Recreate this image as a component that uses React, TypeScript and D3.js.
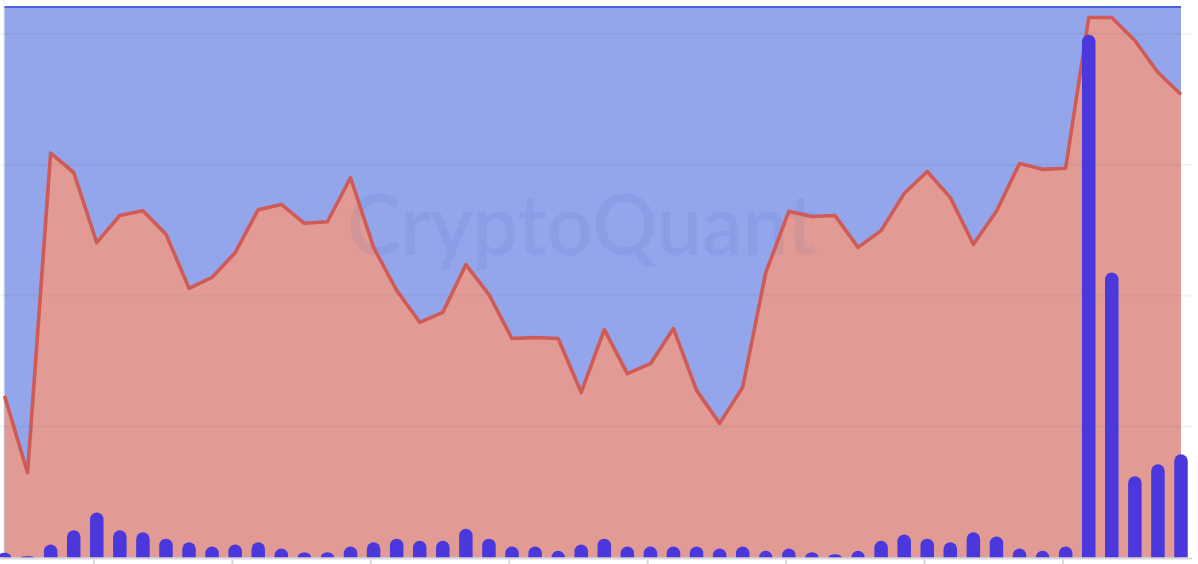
import React from 'react';
import * as d3 from 'd3';

// ---- data ----
const lineValues: number[] = [
  30.9, 16.2, 77.2, 73.5, 60.1, 65.3, 66.2, 61.7, 51.4, 53.5,
  58.2, 66.4, 67.4, 63.8, 64.1, 72.5, 59.2, 51.0, 44.9, 46.8,
  55.9, 50.2, 41.8, 42.0, 41.8, 31.5, 43.5, 35.1, 37.0, 43.7,
  31.9, 25.6, 32.5, 54.4, 66.1, 65.1, 65.3, 59.2, 62.4, 69.5,
  73.7, 68.7, 59.8, 66.1, 75.2, 74.1, 74.3, 103.1, 103.1, 98.7,
  92.6, 88.4,
];
const barValues: number[] = [
  0.9, 0.3, 2.5, 5.2, 8.6, 5.2, 4.8, 3.6, 2.9, 2.1,
  2.5, 2.9, 1.7, 1.0, 1.0, 2.1, 2.9, 3.6, 3.2, 3.2,
  5.5, 3.6, 2.1, 2.1, 1.3, 2.5, 3.6, 2.1, 2.1, 2.1,
  2.1, 1.7, 2.1, 1.3, 1.7, 1.0, 0.6, 1.3, 3.2, 4.4,
  3.6, 2.9, 4.8, 4.0, 1.7, 1.3, 2.1, 99.8, 54.4, 15.5,
  17.8, 19.7,
];
const tickPositions: number[] = [3.88, 9.88, 15.88, 21.88, 27.88, 33.88, 39.88, 45.88];
const gridValues: number[] = [25, 50, 75, 100];
const capValue = 105;

const W = 1198;
const H = 564;

export default function App() {
  const x = d3.scaleLinear().domain([0, lineValues.length - 1]).range([4.5, 1181]);
  const y = d3.scaleLinear().domain([0, capValue]).range([557.5, 7.5]);
  const base = y(0);

  const line = d3
    .line<number>()
    .x((_, i) => x(i))
    .y((d) => y(d));
  const area = d3
    .area<number>()
    .x((_, i) => x(i))
    .y0(base)
    .y1((d) => y(d));

  const barW = 13.5;

  return (
    <svg
      width={W}
      height={H}
      style={{ position: 'absolute', left: 0, top: 0, display: 'block' }}
    >
      <defs>
        <clipPath id="plotClip">
          <rect x={0} y={0} width={W} height={base} />
        </clipPath>
      </defs>
      <rect x={0} y={0} width={W} height={H} fill="#ffffff" />
      {/* left axis line */}
      <line x1={4} x2={4} y1={0} y2={base} stroke="#e4e4e8" strokeWidth={1} />
      {/* blue ceiling area */}
      <rect
        x={x(0)}
        y={y(capValue)}
        width={x(lineValues.length - 1) - x(0)}
        height={base - y(capValue)}
        fill="#93a5eb"
      />
      <line
        x1={x(0)}
        x2={x(lineValues.length - 1)}
        y1={y(capValue) - 0.5}
        y2={y(capValue) - 0.5}
        stroke="#4561dd"
        strokeWidth={2}
      />
      {/* red area */}
      <path d={area(lineValues) || ''} fill="#e19b94" />
      {/* watermark */}
      <text
        x={582}
        y={255}
        textAnchor="middle"
        fontFamily="Lato, 'Open Sans', sans-serif"
        fontWeight={600}
        fontSize={84}
        textLength={470}
        lengthAdjust="spacingAndGlyphs"
        fill="rgba(60,90,200,0.09)"
      >
        CryptoQuant
      </text>
      {/* gridlines */}
      {gridValues.map((g) => (
        <line
          key={g}
          x1={0}
          x2={1192}
          y1={y(g)}
          y2={y(g)}
          stroke="rgba(100,100,120,0.08)"
          strokeWidth={2}
        />
      ))}
      {/* red line */}
      <path
        d={line(lineValues) || ''}
        fill="none"
        stroke="#d05a55"
        strokeWidth={3.6}
        strokeLinejoin="round"
      />
      {/* bars */}
      <g clipPath="url(#plotClip)">
        {barValues.map((v, i) => {
          const top = y(v);
          const h = base - top;
          const ry = Math.min(barW / 2, Math.max(h, 0.5));
          return (
            <rect
              key={i}
              x={x(i) - barW / 2}
              y={top}
              width={barW}
              height={h + ry}
              rx={barW / 2}
              ry={ry}
              fill="#4a38dc"
            />
          );
        })}
      </g>
      {/* x axis */}
      <line x1={0} x2={1192} y1={base + 1} y2={base + 1} stroke="#d8d8de" strokeWidth={2} />
      {tickPositions.map((t) => (
        <line
          key={t}
          x1={x(t)}
          x2={x(t)}
          y1={base + 2}
          y2={H}
          stroke="#d8d8de"
          strokeWidth={2}
        />
      ))}
    </svg>
  );
}
